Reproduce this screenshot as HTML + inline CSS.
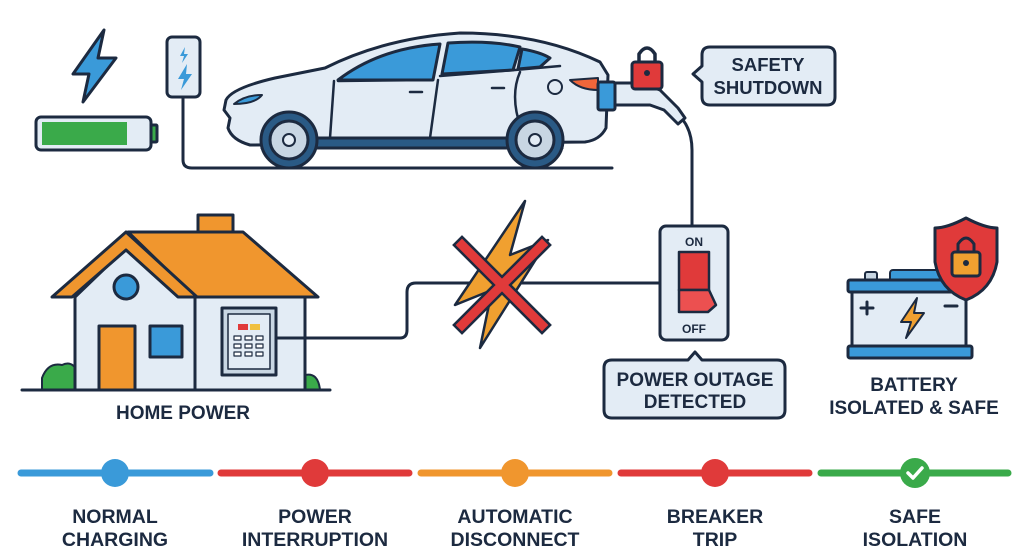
<!DOCTYPE html>
<html><head><meta charset="utf-8"><style>
html,body{margin:0;padding:0;background:#fff;width:1024px;height:559px;overflow:hidden}
svg{display:block}
text{font-family:"Liberation Sans",sans-serif;font-weight:bold;fill:#1c2a40;text-anchor:middle}
</style></head><body>
<svg width="1024" height="559" viewBox="0 0 1024 559" xmlns="http://www.w3.org/2000/svg">
<g stroke="#1c2a40" stroke-width="3" stroke-linejoin="round" stroke-linecap="round">
<!-- top-left bolt -->
<path d="M104,30 L73,74 L89,74 L83,102 L116,58 L98,58 Z" fill="#3a9ad9"/>
<!-- battery -->
<rect x="36" y="117" width="115" height="33" rx="5" fill="#e3ecf5"/>
<rect x="42" y="122" width="85" height="23" fill="#3aaa4a" stroke="none"/>
<rect x="151" y="125" width="6" height="17" rx="1" fill="#3aaa4a"/>
<!-- charger -->
<rect x="167" y="37" width="33" height="60" rx="5" fill="#e3ecf5"/>
<path d="M185,47 L180,56 L184,56 L182,63 L188,54 L184,54Z" fill="#3a9ad9" stroke="none"/>
<path d="M187,64 L178,79 L184,79 L181,90 L192,74 L186,74Z" fill="#3a9ad9" stroke="none"/>
<path d="M183,97 L183,160 Q183,168 192,168 L612,168" fill="none"/>
<!-- car -->
<path d="M226,100 Q232,88 275,78 L325,68 Q385,38 460,33 Q540,33 600,62 L608,75 L606,128 Q600,140 585,142 L250,145 Q232,140 228,128 L230,118 L224,110 Z" fill="#e3ecf5"/>
<path d="M338,80 Q380,48 440,44 L433,80 Z" fill="#3a9ad9"/>
<path d="M448,43 Q490,40 520,47 L513,70 L442,74 Z" fill="#3a9ad9"/>
<path d="M522,49 Q540,52 550,58 L540,67 L518,69 Z" fill="#3a9ad9"/>
<path d="M334,81 L330,138 M430,138 L438,80 M433,80 L338,81 M440,76 L515,70 L560,66" fill="none" stroke-width="2.5"/>
<path d="M520,72 Q508,100 525,138" fill="none" stroke-width="2.5"/>
<path d="M410,92 L422,92 M492,88 L504,88" fill="none" stroke-width="2.5"/>
<path d="M234,104 Q245,95 262,95 Q255,104 234,104Z" fill="#3a9ad9" stroke-width="2"/>
<path d="M570,80 L598,78 L598,90 Q580,90 570,80Z" fill="#f0663a" stroke-width="2"/>
<circle cx="555" cy="87" r="7" fill="#e3ecf5" stroke-width="2"/>
<rect x="262" y="138" width="300" height="10" fill="#2a5a85"/>
<circle cx="289" cy="140" r="28" fill="#2a5a85"/><circle cx="289" cy="140" r="19" fill="#c8d6e3"/><circle cx="289" cy="140" r="6" fill="#e3ecf5" stroke-width="2"/>
<circle cx="535" cy="140" r="28" fill="#2a5a85"/><circle cx="535" cy="140" r="19" fill="#c8d6e3"/><circle cx="535" cy="140" r="6" fill="#e3ecf5" stroke-width="2"/>
<!-- plug -->
<rect x="598" y="82" width="17" height="28" rx="2" fill="#3a9ad9"/>
<path d="M615,83 L640,83 L660,90 L678,108 L685,118 L678,124 L664,110 L650,105 L615,105Z" fill="#e3ecf5"/>
<path d="M639,62 L639,54 Q647,42 655,54 L655,62" fill="none" stroke-width="3.5"/>
<rect x="632" y="62" width="30" height="27" rx="3" fill="#e03a3a"/>
<circle cx="647" cy="73" r="3" fill="#1c2a40" stroke="none"/>
<path d="M683,120 Q692,132 692,150 L692,226" fill="none"/>
<!-- safety shutdown box -->
<path d="M710,47 L827,47 Q835,47 835,55 L835,97 Q835,105 827,105 L710,105 Q702,105 702,97 L702,82 L693,74 L702,66 L702,55 Q702,47 710,47Z" fill="#e3ecf5"/>
<!-- house -->
<rect x="198" y="215" width="35" height="42" fill="#f0962e"/>
<path d="M128,232 L243,232 L318,297 L195,297 Z" fill="#f0962e"/>
<path d="M42,378 Q48,362 62,365 Q72,360 78,372 L78,390 L42,390Z" fill="#3aaa4a" stroke-width="2"/>
<path d="M305,375 Q318,372 320,390 L305,390Z" fill="#3aaa4a" stroke-width="2"/>
<rect x="195" y="297" width="110" height="93" fill="#e3ecf5"/>
<path d="M75,297 L75,390 L195,390 L195,297 L126,248 Z" fill="#e3ecf5"/>
<path d="M52,297 L126,232 L197,297 L178,297 L126,250 L72,297 Z" fill="#f0962e"/>
<circle cx="126" cy="287" r="12" fill="#3a9ad9"/>
<rect x="99" y="326" width="36" height="64" fill="#f0962e"/>
<rect x="150" y="326" width="32" height="31" fill="#3a9ad9"/>
<rect x="222" y="308" width="54" height="67" fill="#c8d6e3"/>
<rect x="228" y="314" width="42" height="55" fill="#e3ecf5" stroke-width="1.5"/>
<rect x="238" y="324" width="10" height="6" fill="#e03a3a" stroke="none"/><rect x="250" y="324" width="10" height="6" fill="#f0c040" stroke="none"/>
<g stroke-width="1.2" fill="#fff"><rect x="234" y="336" width="7" height="4"/><rect x="245" y="336" width="7" height="4"/><rect x="256" y="336" width="7" height="4"/><rect x="234" y="344" width="7" height="4"/><rect x="245" y="344" width="7" height="4"/><rect x="256" y="344" width="7" height="4"/><rect x="234" y="352" width="7" height="4"/><rect x="245" y="352" width="7" height="4"/><rect x="256" y="352" width="7" height="4"/></g>
<path d="M22,390 L330,390" fill="none"/>
<path d="M277,338 L400,338 Q407,338 407,330 L407,292 Q407,283 416,283 L660,283" fill="none"/>
<!-- bolt with X -->
<path d="M525,201 L455,305 L492,290 L480,348 L548,240 L510,255 Z" fill="#f0a030" stroke-width="2.5"/>
<path d="M462,245 L542,325 M542,245 L462,325" stroke="#1c2a40" stroke-width="14" stroke-linecap="square"/>
<path d="M462,245 L542,325 M542,245 L462,325" stroke="#e03a3a" stroke-width="9" stroke-linecap="square"/>
<!-- switch -->
<rect x="660" y="226" width="68" height="114" rx="6" fill="#e3ecf5"/>
<rect x="679" y="252" width="30" height="38" fill="#e03a3a" stroke-width="2.5"/>
<path d="M679,290 L709,290 L716,305 L708,312 L679,312 Z" fill="#ec5050" stroke-width="2.5"/>
<!-- outage box -->
<path d="M612,360 L688,360 L695,352 L702,360 L777,360 Q785,360 785,368 L785,410 Q785,418 777,418 L612,418 Q604,418 604,410 L604,368 Q604,360 612,360Z" fill="#e3ecf5"/>
<!-- car battery -->
<rect x="865" y="272" width="12" height="10" rx="2" fill="#c8d6e3" stroke-width="2"/>
<rect x="890" y="270" width="60" height="12" rx="3" fill="#3a9ad9" stroke-width="2"/>
<rect x="852" y="290" width="114" height="58" fill="#e3ecf5"/>
<rect x="848" y="280" width="126" height="12" rx="2" fill="#3a9ad9"/>
<rect x="848" y="346" width="124" height="12" rx="2" fill="#3a9ad9"/>
<path d="M867,302 L867,314 M861,308 L873,308 M945,306 L957,306" fill="none"/>
<path d="M917,298 L901,322 L911,322 L906,338 L924,313 L914,313Z" fill="#f0a030" stroke-width="2"/>
<path d="M966,218 Q985,228 997,228 L997,262 Q992,290 966,300 Q940,290 935,262 L935,228 Q947,228 966,218Z" fill="#e03a3a"/>
<path d="M958,252 L958,244 Q966,232 974,244 L974,252" fill="none" stroke-width="3"/>
<rect x="952" y="252" width="28" height="24" rx="3" fill="#f0a030"/>
<circle cx="966" cy="263" r="3" fill="#1c2a40" stroke="none"/>
</g>
<!-- timeline -->
<g stroke-width="7" stroke-linecap="round">
<line x1="21" y1="473" x2="210" y2="473" stroke="#3a9ad9"/>
<line x1="221" y1="473" x2="409" y2="473" stroke="#e03a3a"/>
<line x1="421" y1="473" x2="609" y2="473" stroke="#f0962e"/>
<line x1="621" y1="473" x2="809" y2="473" stroke="#e03a3a"/>
<line x1="821" y1="473" x2="1008" y2="473" stroke="#3aaa4a"/>
</g>
<circle cx="115" cy="473" r="14" fill="#3a9ad9"/>
<circle cx="315" cy="473" r="14" fill="#e03a3a"/>
<circle cx="515" cy="473" r="14" fill="#f0962e"/>
<circle cx="715" cy="473" r="14" fill="#e03a3a"/>
<circle cx="915" cy="473" r="15" fill="#3aaa4a"/>
<path d="M908,473 L913,478 L922,468" fill="none" stroke="#fff" stroke-width="3.5" stroke-linecap="round" stroke-linejoin="round"/>
<!-- texts -->
<text x="768" y="71" font-size="18.5">SAFETY</text>
<text x="768" y="94" font-size="18.5">SHUTDOWN</text>
<text x="694" y="246" font-size="12">ON</text>
<text x="694" y="333" font-size="12">OFF</text>
<text x="695" y="386" font-size="19">POWER OUTAGE</text>
<text x="695" y="408" font-size="19">DETECTED</text>
<text x="914" y="391" font-size="19">BATTERY</text>
<text x="914" y="414" font-size="19">ISOLATED &amp; SAFE</text>
<text x="183" y="419" font-size="19">HOME POWER</text>
<g font-size="19.5">
<text x="115" y="523">NORMAL</text><text x="115" y="546">CHARGING</text>
<text x="315" y="523">POWER</text><text x="315" y="546">INTERRUPTION</text>
<text x="515" y="523">AUTOMATIC</text><text x="515" y="546">DISCONNECT</text>
<text x="715" y="523">BREAKER</text><text x="715" y="546">TRIP</text>
<text x="915" y="523">SAFE</text><text x="915" y="546">ISOLATION</text>
</g>
</svg>
</body></html>
